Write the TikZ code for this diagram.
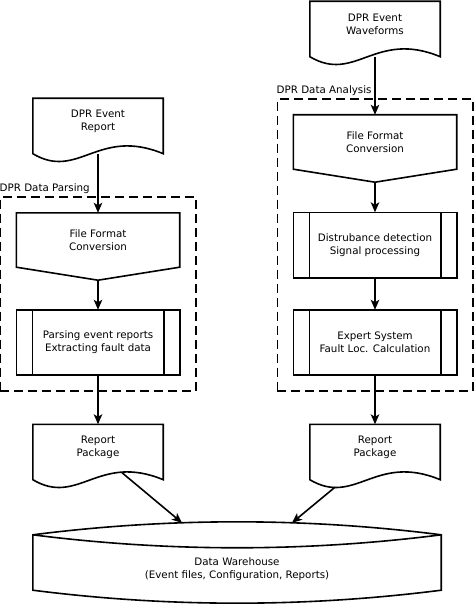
\documentclass[tikz,border=0pt]{standalone}
\usepackage{fontspec}
\setmainfont{DejaVu Sans}
\usetikzlibrary{arrows.meta,fit}
\tikzset{>={Stealth[length=10pt,width=8.5pt,inset=2.5pt]}}
\tikzstyle{txt}=[align=center,inner sep=0pt,font=\fontsize{10.3}{13}\selectfont]
\tikzstyle{doc}=[txt,minimum width=130pt,minimum height=45pt]
\tikzstyle{conv}=[txt,minimum width=163pt,minimum height=54pt]
\tikzstyle{proc}=[txt,minimum width=163pt,minimum height=65pt]
\tikzstyle{store}=[txt,minimum width=408pt,minimum height=42pt]
\tikzstyle{outline}=[line width=1.6pt]
\tikzstyle{flow}=[->,line width=1.6pt]
\tikzstyle{group}=[draw,line width=1.6pt,dash pattern=on 9pt off 5pt,inner sep=16pt]
\tikzstyle{grouplabel}=[anchor=south west,inner xsep=0pt,inner ysep=2.5pt,font=\fontsize{10.3}{13}\selectfont]

\begin{document}
\begin{tikzpicture}[x=1pt,y=-1pt]
  \useasboundingbox (0,0) rectangle (474,604);
  \def\xL{98}
  \def\xR{375}
  % left column
  \node[doc] (rep) at (\xL,121) {DPR Event\\Report};
  \node[conv] (ffcL) at (\xL,240) {File Format\\Conversion};
  \node[proc] (parse) at (\xL,342.5) {Parsing event reports\\Extracting fault data};
  \node[doc] (pkgL) at (\xL,447) {Report\\Package};
  % right column
  \node[doc] (wav) at (\xR,24) {DPR Event\\Waveforms};
  \node[conv] (ffcR) at (\xR,142) {File Format\\Conversion};
  \node[proc] (dist) at (\xR,245) {Distrubance detection\\Signal processing};
  \node[proc] (expert) at (\xR,342.5) {Expert System\\Fault Loc. Calculation};
  \node[doc] (pkgR) at (\xR,447) {Report\\Package};
  \node[store] (dw) at (237,569) {Data Warehouse\\(Event files, Configuration, Reports)};

  \foreach \n in {rep,pkgL,wav,pkgR}
    \draw[outline] (\n.north west) -- (\n.north east) -- ([yshift=-10pt]\n.south east)
      .. controls +(-65,-27) and +(45.5,27) .. ([yshift=-10pt]\n.south west) -- cycle;
  \foreach \n in {ffcL,ffcR}
    \draw[outline] (\n.north west) -- (\n.north east) -- (\n.south east)
      -- ([yshift=-13pt]\n.south) -- (\n.south west) -- cycle;
  \foreach \n in {parse,dist,expert}{
    \draw[outline] (\n.north west) rectangle (\n.south east);
    \draw[outline] ([xshift=16pt]\n.north west) -- ([xshift=16pt]\n.south west)
      ([xshift=-16pt]\n.north east) -- ([xshift=-16pt]\n.south east);
  }
  \draw[outline] ([yshift=13pt]dw.north west) .. controls +(136,-17.3) and +(-136,-17.3) .. ([yshift=13pt]dw.north east)
    -- (dw.south east) .. controls +(-136,17.3) and +(136,17.3) .. (dw.south west) -- cycle;
  \draw[outline] ([yshift=13pt]dw.north west) .. controls +(136,17.3) and +(-136,17.3) .. ([yshift=13pt]dw.north east);

  % dashed groups
  \node[group,fit=(ffcL)(parse)] (parsing) {};
  \node[grouplabel] (parsingLbl) at (parsing.north west) {DPR Data Parsing};
  \node[group,fit=(ffcR)(dist)(expert)] (analysis) {};
  \node[grouplabel] (analysisLbl) at (analysis.north west) {DPR Data Analysis};

  \draw[flow,shorten <=10pt] (rep) -- (ffcL);
  \draw[flow,shorten <=13pt] (ffcL) -- (parse);
  \draw[flow] (parse) -- (pkgL);
  \draw[flow,shorten <=10pt] (wav) -- (ffcR);
  \draw[flow,shorten <=13pt] (ffcR) -- (dist);
  \draw[flow] (dist) -- (expert);
  \draw[flow] (expert) -- (pkgR);
  \draw[flow] ([xshift=24pt,yshift=-3pt]pkgL.south) -- ([xshift=-55pt,yshift=25pt]dw.north);
  \draw[flow] ([xshift=-40pt,yshift=-17.5pt]pkgR.south) -- ([xshift=55pt,yshift=25pt]dw.north);
\end{tikzpicture}
\end{document}
